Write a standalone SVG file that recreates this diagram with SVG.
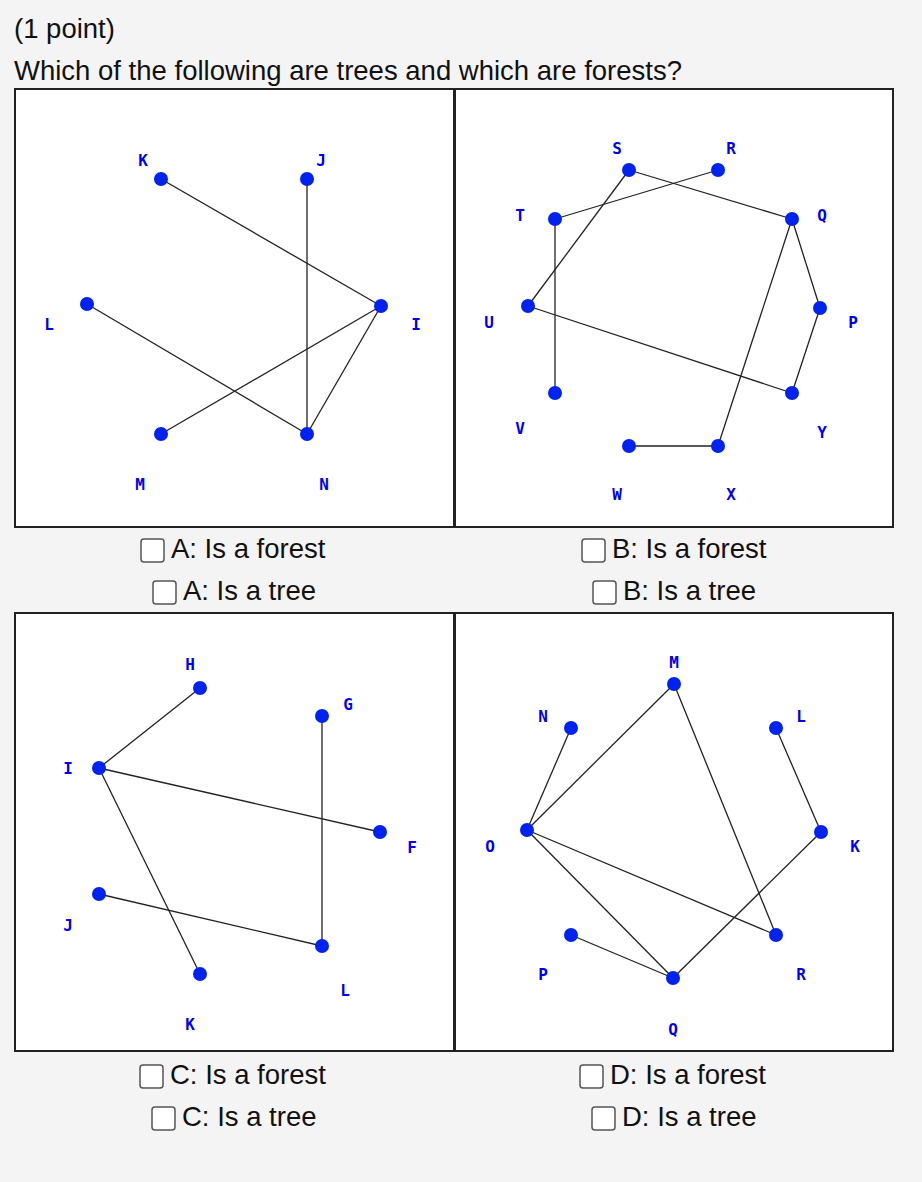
<svg xmlns="http://www.w3.org/2000/svg" width="922" height="1182" viewBox="0 0 922 1182">
<style>
.t{font-family:"Liberation Sans",Arial,sans-serif;font-size:27.5px;fill:#111}
.lb{font-family:"DejaVu Sans Mono","Liberation Mono",monospace;font-weight:bold;font-size:16px;fill:#0000ee;text-anchor:middle}
.p{fill:#fff;stroke:#222;stroke-width:2}
.e{stroke:#222;stroke-width:1.3}
.n{fill:#0022ee}
.cb{fill:#fff;stroke:#555;stroke-width:1.5}
</style>
<rect width="922" height="1182" fill="#f4f4f4"/>
<text class="t" x="14" y="38">(1 point)</text>
<text class="t" x="14" y="80">Which of the following are trees and which are forests?</text>
<rect class="p" x="15" y="89" width="439" height="438"/>
<rect class="p" x="455" y="89" width="438" height="438"/>
<rect class="p" x="15" y="613" width="439" height="438"/>
<rect class="p" x="455" y="613" width="438" height="438"/>
<g id="connectors">
<line class="e" x1="161" y1="179" x2="381" y2="306"/>
<line class="e" x1="307" y1="179" x2="307" y2="434"/>
<line class="e" x1="87" y1="304" x2="307" y2="434"/>
<line class="e" x1="161" y1="434" x2="381" y2="306"/>
<line class="e" x1="381" y1="306" x2="307" y2="434"/>
<line class="e" x1="629" y1="170" x2="792" y2="219"/>
<line class="e" x1="718" y1="170" x2="555" y2="219"/>
<line class="e" x1="555" y1="219" x2="555" y2="393"/>
<line class="e" x1="629" y1="170" x2="528" y2="306"/>
<line class="e" x1="528" y1="306" x2="792" y2="393"/>
<line class="e" x1="792" y1="219" x2="820" y2="308"/>
<line class="e" x1="820" y1="308" x2="792" y2="393"/>
<line class="e" x1="792" y1="219" x2="718" y2="446"/>
<line class="e" x1="629" y1="446" x2="718" y2="446"/>
<line class="e" x1="200" y1="688" x2="99" y2="768"/>
<line class="e" x1="99" y1="768" x2="380" y2="832"/>
<line class="e" x1="99" y1="768" x2="200" y2="974"/>
<line class="e" x1="322" y1="716" x2="322" y2="946"/>
<line class="e" x1="99" y1="894" x2="322" y2="946"/>
<line class="e" x1="571" y1="728" x2="527" y2="830"/>
<line class="e" x1="527" y1="830" x2="674" y2="684"/>
<line class="e" x1="674" y1="684" x2="776" y2="935"/>
<line class="e" x1="776" y1="728" x2="821" y2="832"/>
<line class="e" x1="821" y1="832" x2="673" y2="978"/>
<line class="e" x1="527" y1="830" x2="776" y2="935"/>
<line class="e" x1="527" y1="830" x2="673" y2="978"/>
<line class="e" x1="571" y1="935" x2="673" y2="978"/>
</g>
<g id="A-K"><circle class="n" cx="161" cy="179" r="7"/><text class="lb" x="143" y="166">K</text></g>
<g id="A-J"><circle class="n" cx="307" cy="179" r="7"/><text class="lb" x="321" y="166">J</text></g>
<g id="A-I"><circle class="n" cx="381" cy="306" r="7"/><text class="lb" x="416" y="330">I</text></g>
<g id="A-L"><circle class="n" cx="87" cy="304" r="7"/><text class="lb" x="49" y="330">L</text></g>
<g id="A-M"><circle class="n" cx="161" cy="434" r="7"/><text class="lb" x="140" y="490">M</text></g>
<g id="A-N"><circle class="n" cx="307" cy="434" r="7"/><text class="lb" x="324" y="490">N</text></g>
<g id="B-S"><circle class="n" cx="629" cy="170" r="7"/><text class="lb" x="617" y="154">S</text></g>
<g id="B-R"><circle class="n" cx="718" cy="170" r="7"/><text class="lb" x="731" y="154">R</text></g>
<g id="B-T"><circle class="n" cx="555" cy="219" r="7"/><text class="lb" x="520" y="221">T</text></g>
<g id="B-Q"><circle class="n" cx="792" cy="219" r="7"/><text class="lb" x="822" y="221">Q</text></g>
<g id="B-U"><circle class="n" cx="528" cy="306" r="7"/><text class="lb" x="489" y="328">U</text></g>
<g id="B-P"><circle class="n" cx="820" cy="308" r="7"/><text class="lb" x="853" y="328">P</text></g>
<g id="B-V"><circle class="n" cx="555" cy="393" r="7"/><text class="lb" x="520" y="434">V</text></g>
<g id="B-Y"><circle class="n" cx="792" cy="393" r="7"/><text class="lb" x="822" y="438">Y</text></g>
<g id="B-W"><circle class="n" cx="629" cy="446" r="7"/><text class="lb" x="617" y="500">W</text></g>
<g id="B-X"><circle class="n" cx="718" cy="446" r="7"/><text class="lb" x="731" y="500">X</text></g>
<g id="C-H"><circle class="n" cx="200" cy="688" r="7"/><text class="lb" x="190" y="670">H</text></g>
<g id="C-G"><circle class="n" cx="322" cy="716" r="7"/><text class="lb" x="348" y="710">G</text></g>
<g id="C-I"><circle class="n" cx="99" cy="768" r="7"/><text class="lb" x="68" y="774">I</text></g>
<g id="C-F"><circle class="n" cx="380" cy="832" r="7"/><text class="lb" x="412" y="853">F</text></g>
<g id="C-J"><circle class="n" cx="99" cy="894" r="7"/><text class="lb" x="68" y="931">J</text></g>
<g id="C-L"><circle class="n" cx="322" cy="946" r="7"/><text class="lb" x="345" y="996">L</text></g>
<g id="C-K"><circle class="n" cx="200" cy="974" r="7"/><text class="lb" x="190" y="1030">K</text></g>
<g id="D-M"><circle class="n" cx="674" cy="684" r="7"/><text class="lb" x="674" y="668">M</text></g>
<g id="D-N"><circle class="n" cx="571" cy="728" r="7"/><text class="lb" x="543" y="722">N</text></g>
<g id="D-L"><circle class="n" cx="776" cy="728" r="7"/><text class="lb" x="801" y="722">L</text></g>
<g id="D-O"><circle class="n" cx="527" cy="830" r="7"/><text class="lb" x="490" y="852">O</text></g>
<g id="D-K"><circle class="n" cx="821" cy="832" r="7"/><text class="lb" x="855" y="852">K</text></g>
<g id="D-P"><circle class="n" cx="571" cy="935" r="7"/><text class="lb" x="543" y="980">P</text></g>
<g id="D-R"><circle class="n" cx="776" cy="935" r="7"/><text class="lb" x="801" y="980">R</text></g>
<g id="D-Q"><circle class="n" cx="673" cy="978" r="7"/><text class="lb" x="673" y="1035">Q</text></g>
<rect class="cb" x="141" y="539" width="23" height="23" rx="3"/><text class="t" x="171" y="558">A: Is a forest</text>
<rect class="cb" x="153" y="581" width="23" height="23" rx="3"/><text class="t" x="183" y="600">A: Is a tree</text>
<rect class="cb" x="582" y="539" width="23" height="23" rx="3"/><text class="t" x="612" y="558">B: Is a forest</text>
<rect class="cb" x="593" y="581" width="23" height="23" rx="3"/><text class="t" x="623" y="600">B: Is a tree</text>
<rect class="cb" x="140" y="1065" width="23" height="23" rx="3"/><text class="t" x="170" y="1084">C: Is a forest</text>
<rect class="cb" x="152" y="1107" width="23" height="23" rx="3"/><text class="t" x="182" y="1126">C: Is a tree</text>
<rect class="cb" x="580" y="1065" width="23" height="23" rx="3"/><text class="t" x="610" y="1084">D: Is a forest</text>
<rect class="cb" x="592" y="1107" width="23" height="23" rx="3"/><text class="t" x="622" y="1126">D: Is a tree</text>
</svg>
